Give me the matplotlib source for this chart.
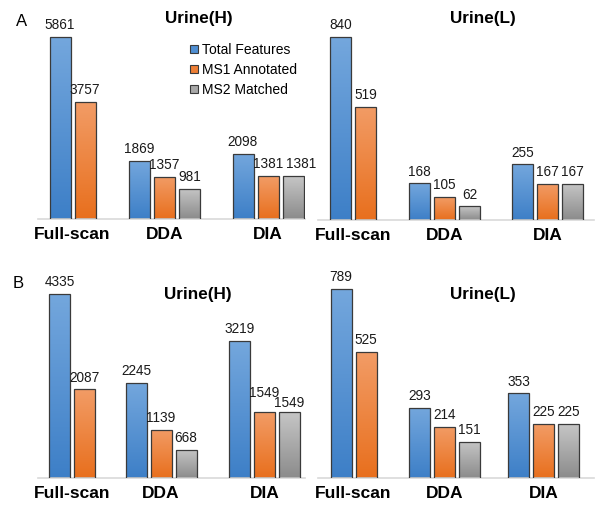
import numpy as np
import matplotlib
matplotlib.use("Agg")
import matplotlib.pyplot as plt
from matplotlib.colors import LinearSegmentedColormap
from matplotlib.patches import Patch

plt.rcParams['font.family'] = ['Liberation Sans', 'DejaVu Sans']

# ---------------- data ----------------
methods = ["Full-scan", "DDA", "DIA"]
series = ["Total Features", "MS1 Annotated", "MS2 Matched"]

A_H_total = [5861, 1869, 2098]
A_H_ms1 = [3757, 1357, 1381]
A_H_ms2 = [None, 981, 1381]

A_L_total = [840, 168, 255]
A_L_ms1 = [519, 105, 167]
A_L_ms2 = [None, 62, 167]

B_H_total = [4335, 2245, 3219]
B_H_ms1 = [2087, 1139, 1549]
B_H_ms2 = [None, 668, 1549]

B_L_total = [789, 293, 353]
B_L_ms1 = [525, 214, 225]
B_L_ms2 = [None, 151, 225]

titles = ["Urine(H)", "Urine(L)", "Urine(H)", "Urine(L)"]
panel_letters = ["A", "B"]

# ---------------- style / layout ----------------
W, H = 600, 517
fig = plt.figure(figsize=(W / 100, H / 100), dpi=100)

grad = [("#3d7fc7", "#74a7dd"), ("#e86f1d", "#f29c66"), ("#8b8b8b", "#c6c6c6")]
legend_cols = ["#4f8ed2", "#ee7f35", "#a8a8a8"]
edge = "#3a3a3a"
pitch = 25.0
bw = 0.84

# label nudges (points): (panel, series, group) -> (dx, dy)
label_nudge = {(0, 2, 2): (6.0, 0.0), (2, 1, 2): (0.0, 5.0), (2, 2, 2): (0.0, -2.0)}

panels = [
    dict(data=(A_H_total, A_H_ms1, A_H_ms2), title=titles[0], anchor=85.0,
         groups=[0, 3.18, 7.32], left=38, right=305, base=219, top=10, ymax=6730,
         title_xy=(199, 18)),
    dict(data=(A_L_total, A_L_ms1, A_L_ms2), title=titles[1], anchor=365.5,
         groups=[0, 3.16, 7.28], left=318, right=594, base=220, top=10, ymax=964,
         title_xy=(483, 18)),
    dict(data=(B_H_total, B_H_ms1, B_H_ms2), title=titles[2], anchor=84.5,
         groups=[0, 3.06, 7.2], left=38, right=305, base=478, top=270, ymax=4900,
         title_xy=(198, 295)),
    dict(data=(B_L_total, B_L_ms1, B_L_ms2), title=titles[3], anchor=366.0,
         groups=[0, 3.14, 7.1], left=318, right=594, base=478, top=270, ymax=868,
         title_xy=(483, 295)),
]

for pi, p in enumerate(panels):
    ax = fig.add_axes([p['left'] / W, 1 - p['base'] / H,
                       (p['right'] - p['left']) / W, (p['base'] - p['top']) / H])
    xlim = ((p['left'] - p['anchor']) / pitch, (p['right'] - p['anchor']) / pitch)
    for si, vals in enumerate(p['data']):
        cmap = LinearSegmentedColormap.from_list("g%d" % si, list(grad[si]))
        for gi, v in enumerate(vals):
            if v is None:
                continue
            x = p['groups'][gi] + (si - 1)
            bars = ax.bar(x, v, width=bw, facecolor="none", edgecolor=edge,
                          linewidth=0.9, zorder=3)
            rect = bars[0]
            img = np.linspace(0, 1, 256).reshape(-1, 1)
            im = ax.imshow(img, extent=[x - bw / 2, x + bw / 2, 0, v], origin="lower",
                           aspect="auto", cmap=cmap, zorder=2)
            im.set_clip_path(rect)
            dx, dy = label_nudge.get((pi, si, gi), (0.0, 0.0))
            ax.annotate(f"{v}", (x, v), xytext=(dx, 3.5 + dy), textcoords="offset points",
                        ha="center", va="bottom", fontsize=9.8, color="#1a1a1a",
                        zorder=5)
    ax.set_xlim(*xlim)
    ax.set_ylim(0, p['ymax'])
    ax.set_xticks([p['groups'][0] - 0.5, p['groups'][1], p['groups'][2]])
    ax.set_xticklabels(methods, fontsize=12.5, fontweight="bold")
    ax.tick_params(axis="x", length=0, pad=6)
    ax.set_yticks([])
    for s in ["top", "right", "left"]:
        ax.spines[s].set_visible(False)
    ax.spines["bottom"].set_color("#d9d9d9")
    ax.spines["bottom"].set_linewidth(1.2)
    ax.patch.set_alpha(0)
    tx, ty = p['title_xy']
    fig.text(tx / W, 1 - ty / H, p['title'], ha="center", va="center",
             fontsize=12.3, fontweight="bold")

fig.text(22 / W, 1 - 22 / H, panel_letters[0], ha="center", va="center", fontsize=12)
fig.text(18 / W, 1 - 283 / H, panel_letters[1], ha="center", va="center", fontsize=12)

handles = [Patch(facecolor=legend_cols[i], edgecolor=edge, linewidth=0.8) for i in range(3)]
fig.legend(handles, series, loc="upper left", bbox_to_anchor=(190 / W, 1 - 43 / H),
           frameon=False, fontsize=10, handlelength=0.55, handleheight=0.55,
           handletextpad=0.3, labelspacing=0.42, borderpad=0, borderaxespad=0)

fig.savefig("out.png", dpi=100)
